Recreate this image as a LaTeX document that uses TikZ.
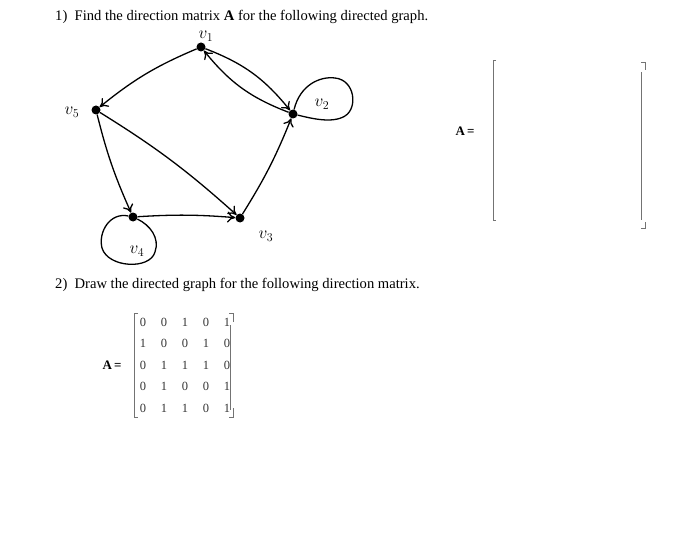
\documentclass[tikz,border=0pt]{standalone}
\usepackage{fontspec}
\setmainfont{Liberation Serif}
\usetikzlibrary{arrows.meta}
\begin{document}
\begin{tikzpicture}[x=1pt,y=-1pt,
  vtx/.style={circle,fill=black,inner sep=0pt,minimum size=9pt},
  edge/.style={line width=1.3pt,-{To[length=8pt,width=11pt]}},
  hand/.style={font=\fontsize{17}{17}\selectfont,inner sep=0pt},
  txt/.style={font=\fontsize{14.6}{16}\selectfont,anchor=west,inner sep=0pt},
  num/.style={font=\fontsize{12.5}{13}\selectfont,inner sep=0pt,text=black!80},
  brk/.style={line width=0.7pt,black!55}]
\useasboundingbox (0,0) rectangle (700,553);
\node[txt] (t1) at (55,17) {1)\ \ Find the direction matrix \textbf{A} for the following directed graph.};
\node[txt] (t2) at (55,285) {2)\ \ Draw the directed graph for the following direction matrix.};
% graph
\node[vtx] (v1) at (201,47) {};
\node[vtx] (v2) at (293,114) {};
\node[vtx] (v3) at (240,218) {};
\node[vtx] (v4) at (133,217) {};
\node[vtx] (v5) at (96,110) {};
\node[hand] (l1) at (206,36) {$v_1$};
\node[hand] (l2) at (322,104) {$v_2$};
\node[hand] (l3) at (266,236) {$v_3$};
\node[hand] (l4) at (137,251) {$v_4$};
\node[hand] (l5) at (72,112) {$v_5$};
\draw[edge] (v1) to[bend left=15] (v2);
\draw[edge] (v2) to[bend left=15] (v1);
\draw[edge] (v1) to[bend right=8] (v5);
\draw[edge] (v5) to[bend right=5] (v4);
\draw[edge] (v5) to[bend left=5] (v3);
\draw[edge] (v4) to[bend left=4] (v3);
\draw[edge] (v3) to[bend right=5] (v2);
\draw[line width=1.3pt] (v2) .. controls (300,85) and (320,76) .. (335,78) .. controls (355,80) and (358,108) .. (345,116) .. controls (332,124) and (310,118) .. (v2);
\draw[line width=1.3pt] (v4) .. controls (110,212) and (98,232) .. (102,248) .. controls (108,268) and (150,270) .. (155,252) .. controls (160,238) and (150,225) .. (v4);
% empty matrix
\node[font=\fontsize{13}{14}\selectfont\bfseries,inner sep=0pt] (a1) at (465,131) {A\,=};
\draw[brk] (496,60) -- (493,60) -- (493,220) -- (496,220);
\draw[brk] (641,62) -- (645,62) -- (645,70);
\draw[brk] (641,72) -- (641,220);
\draw[brk] (641,228) -- (645,228) -- (645,222);
% given matrix
\node[font=\fontsize{13}{14}\selectfont\bfseries,inner sep=0pt] (a2) at (112,365) {A\,=};
\draw[brk] (138,313) -- (134,313) -- (134,417) -- (138,417);
\draw[brk] (229,313) -- (233,313) -- (233,322);
\draw[brk] (230,325) -- (230,410);
\draw[brk] (229,417) -- (233,417) -- (233,408);
\foreach \r [count=\i] in {{0,0,1,0,1},{1,0,0,1,0},{0,1,1,1,0},{0,1,0,0,1},{0,1,1,0,1}}{
  \foreach \v [count=\j] in \r {
    \node[num] (m\i\j) at ({122+21*\j},{300.5+21.5*\i}) {\v};
  }
}
\end{tikzpicture}
\end{document}
